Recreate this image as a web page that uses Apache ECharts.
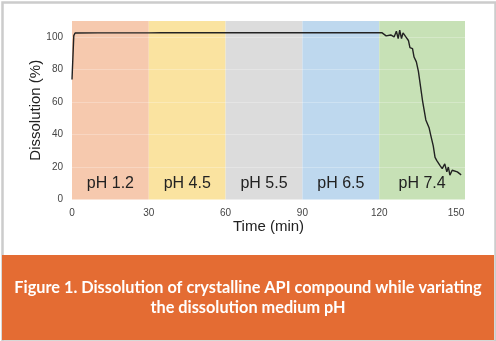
<!DOCTYPE html>
<html>
<head>
<meta charset="utf-8">
<script src="https://cdn.jsdelivr.net/npm/echarts@6/dist/echarts.min.js"></script>
<style>
html,body{margin:0;padding:0;background:#fff;}
#chart{width:496px;height:341px;}
</style>
</head>
<body>
<div id="chart"></div>
<script>
// Dissolution curve: time (min) and dissolution (%)
var timeMin = [0, 0.7, 1.2, 10, 30, 35, 60, 90, 121, 122.7, 124.5, 125.8, 126.7, 127.4, 128, 128.7, 129.3, 130.4, 131.4, 132, 133, 133.6, 134.5, 135.3, 136.9, 138.2, 139.5, 140.2, 141.1, 141.8, 142.5, 143, 143.7, 144.6, 145.6, 146.4, 147, 147.6, 148.5, 150.5, 152];
var dissolution = [74, 101, 102.6, 102.7, 102.7, 102.8, 102.8, 102.8, 102.8, 100.8, 101.4, 100.2, 103.7, 99.2, 104.3, 99.2, 102.7, 100.2, 98, 93.6, 93, 87.8, 84.8, 79, 61, 49, 44, 39, 33, 26, 24, 25, 21, 19, 22, 17, 20, 15, 18, 17, 15.2];
// pH phases
var phLabels = ['pH 1.2', 'pH 4.5', 'pH 5.5', 'pH 6.5', 'pH 7.4'];
var phStart = [0, 30, 60, 90, 120];
var phEnd = [30, 60, 90, 120, 153.5];
var phColors = ['#F6C9AE', '#FAE3A0', '#DCDCDC', '#BED8EE', '#C7E1B6'];
// axis ticks
var yTicks = [20, 40, 60, 80, 100];
var captionLines = ['Figure 1. Dissolution of crystalline API compound while variating', 'the dissolution medium pH'];

var chart = echarts.init(document.getElementById('chart'), null, {renderer: 'canvas'});

var areas = phLabels.map(function (lab, i) {
  return [{
    xAxis: phStart[i],
    itemStyle: {color: phColors[i]},
    label: {show: true, position: 'insideBottom', distance: 8, formatter: lab,
      color: '#222', fontSize: 16, fontFamily: 'Liberation Sans'}
  }, {xAxis: phEnd[i]}];
});

var data = timeMin.map(function (t, i) { return [t, dissolution[i]]; });

chart.setOption({
  animation: false,
  grid: {left: 72, right: 31, top: 21, bottom: 141.5},
  xAxis: {
    type: 'value', min: 0, max: 153.5, interval: 30,
    name: 'Time (min)', nameLocation: 'middle', nameGap: 20, nameMoveOverlap: false,
    nameTextStyle: {fontSize: 15, color: '#222', fontFamily: 'Liberation Sans', verticalAlign: 'top'},
    axisLine: {show: false}, axisTick: {show: false}, splitLine: {show: false},
    axisLabel: {fontSize: 10, color: '#444', margin: 9, showMaxLabel: false, fontFamily: 'Liberation Sans'}
  },
  yAxis: {
    type: 'value', min: 0, max: 110, interval: 20,
    name: 'Dissolution (%)', nameLocation: 'middle', nameGap: 29, nameMoveOverlap: false,
    nameTextStyle: {fontSize: 15, color: '#222', fontFamily: 'Liberation Sans'},
    axisLine: {show: false}, axisTick: {show: false}, splitLine: {show: false},
    axisLabel: {fontSize: 10, color: '#444', margin: 9, showMaxLabel: false, fontFamily: 'Liberation Sans'}
  },
  series: [{
    type: 'line',
    data: data,
    showSymbol: false,
    lineStyle: {color: '#222', width: 1.4},
    z: 5,
    markArea: {silent: true, data: areas},
    markLine: {
      silent: true, symbol: 'none', label: {show: false},
      lineStyle: {color: 'rgba(255,255,255,0.25)', type: 'solid', width: 1},
      data: yTicks.map(function (v) { return {yAxis: v}; })
    }
  }],
  graphic: [
    {type: 'rect', left: 0, top: 0, z: 100, shape: {x: 1, y: 1, width: 493, height: 339},
      style: {fill: 'none', stroke: '#cccccc', lineWidth: 2.5}},
    {type: 'rect', z: 101, shape: {x: 2, y: 255, width: 492, height: 85}, style: {fill: '#E46C33'}},
    {type: 'text', z: 102, x: 248, y: 288, style: {text: captionLines[0], fill: '#fff', font: 'bold 16.3px Lato', align: 'center', verticalAlign: 'middle'}},
    {type: 'text', z: 102, x: 248, y: 308, style: {text: captionLines[1], fill: '#fff', font: 'bold 16.3px Lato', align: 'center', verticalAlign: 'middle'}}
  ]
});
</script>
</body>
</html>
